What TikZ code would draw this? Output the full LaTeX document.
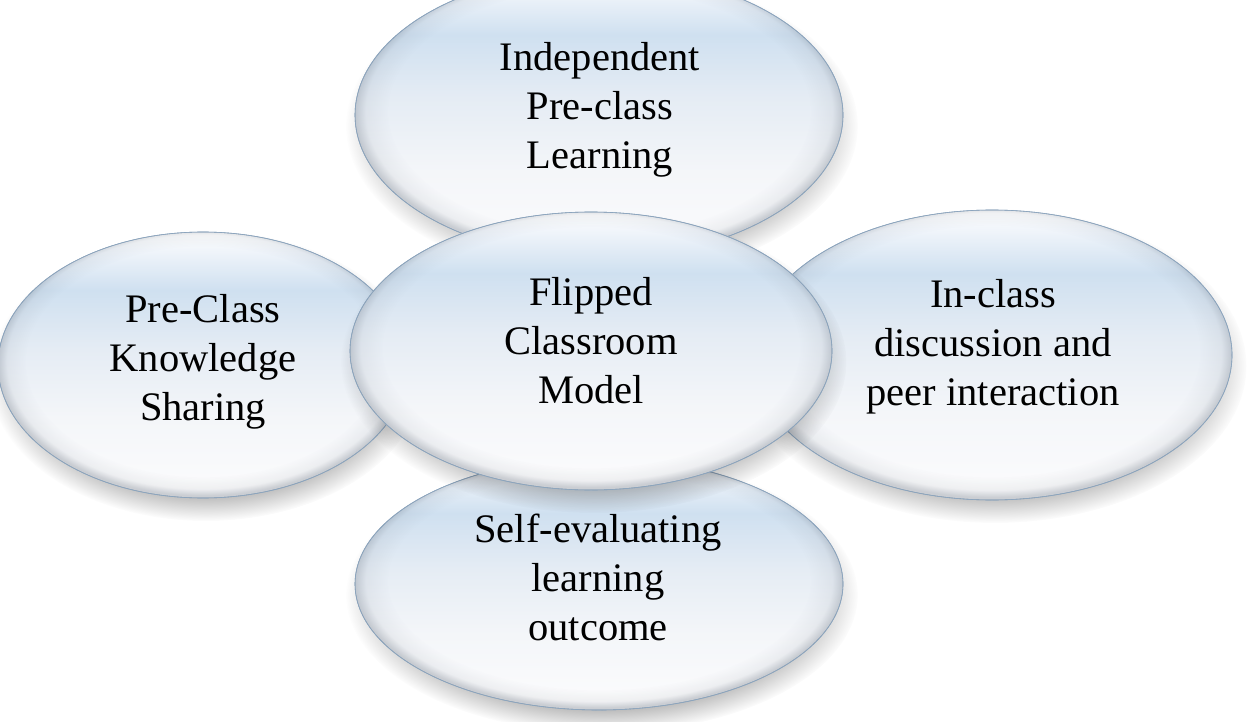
\documentclass[tikz,border=0pt]{standalone}
\usepackage{fontspec}
\setmainfont{Liberation Serif}
\usetikzlibrary{shapes.geometric,fadings}

\definecolor{gtop}{RGB}{242,246,251}
\definecolor{gblue}{RGB}{207,224,240}
\definecolor{gmid}{RGB}{229,236,244}
\definecolor{glow}{RGB}{244,246,249}
\definecolor{gbot}{RGB}{252,252,253}
\definecolor{rimc}{RGB}{100,110,124}
\definecolor{edgec}{RGB}{140,165,190}

\pgfdeclareverticalshading{glossy}{100bp}{color(0bp)=(gbot); color(25bp)=(gbot); color(40bp)=(glow); color(53bp)=(gmid); color(64bp)=(gblue); color(72bp)=(gtop); color(75bp)=(white); color(100bp)=(white)}
\pgfdeclareradialshading{rimshade}{\pgfpoint{0bp}{1.2bp}}{color(0bp)=(pgftransparent!100); color(21.5bp)=(pgftransparent!100); color(23.8bp)=(pgftransparent!75); color(25bp)=(pgftransparent!0); color(50bp)=(pgftransparent!0)}
\pgfdeclarefading{rimfade}{\pgfuseshading{rimshade}}

\tikzset{
  bubble/.style={ellipse, inner sep=0pt, shade, shading=glossy, draw=edgec, line width=0.6pt},
  shadowfill/.style={fill=black, fill opacity=0.30, path fading=circle with fuzzy edge 20 percent},
  rimfill/.style={fill=rimc, fill opacity=0.32, path fading=rimfade},
  txt/.style={align=center, inner sep=0pt, font=\fontsize{40.5}{49}\selectfont, text=black}
}

\begin{document}
\begin{tikzpicture}[x=1pt,y=-1pt]
\useasboundingbox (0,0) rectangle (1252,722);
\fill[white] (0,0) rectangle (1252,722);

% top
\fill[shadowfill] (602,126) ellipse [x radius=256, y radius=154];
\node[bubble, minimum width=488, minimum height=286] (top) at (599,115) {};
\fill[rimfill] (top.center) ellipse [x radius=244, y radius=143];
\draw[edgec, line width=0.6pt] (top.center) ellipse [x radius=244, y radius=143];
\node[txt] (toptext) at (600,109.5) {Independent\\Pre-class\\Learning};

% left
\fill[shadowfill] (206,376) ellipse [x radius=217, y radius=145];
\node[bubble, minimum width=410, minimum height=266] (left) at (203,365) {};
\fill[rimfill] (left.center) ellipse [x radius=205, y radius=133];
\draw[edgec, line width=0.6pt] (left.center) ellipse [x radius=205, y radius=133];
\node[txt] (lefttext) at (203,361.5) {Pre-Class\\Knowledge\\Sharing};

% right
\fill[shadowfill] (995,366) ellipse [x radius=252, y radius=157];
\node[bubble, minimum width=480, minimum height=290] (right) at (992,355) {};
\fill[rimfill] (right.center) ellipse [x radius=240, y radius=145];
\draw[edgec, line width=0.6pt] (right.center) ellipse [x radius=240, y radius=145];
\node[txt] (righttext) at (993,346.5) {In-class\\discussion and\\peer interaction};

% bottom
\fill[shadowfill] (602,595) ellipse [x radius=256, y radius=138];
\node[bubble, minimum width=488, minimum height=252] (bottom) at (599,584) {};
\fill[rimfill] (bottom.center) ellipse [x radius=244, y radius=126];
\draw[edgec, line width=0.6pt] (bottom.center) ellipse [x radius=244, y radius=126];
\node[txt] (bottomtext) at (598,577.2) {Self-evaluating\\learning\\outcome};

% center
\fill[shadowfill] (594,362) ellipse [x radius=253, y radius=151];
\node[bubble, minimum width=482, minimum height=278] (center) at (591,351) {};
\fill[rimfill] (center.center) ellipse [x radius=241, y radius=139];
\draw[edgec, line width=0.6pt] (center.center) ellipse [x radius=241, y radius=139];
\node[txt] (centertext) at (591,340.2) {Flipped\\Classroom\\Model};
\end{tikzpicture}
\end{document}
